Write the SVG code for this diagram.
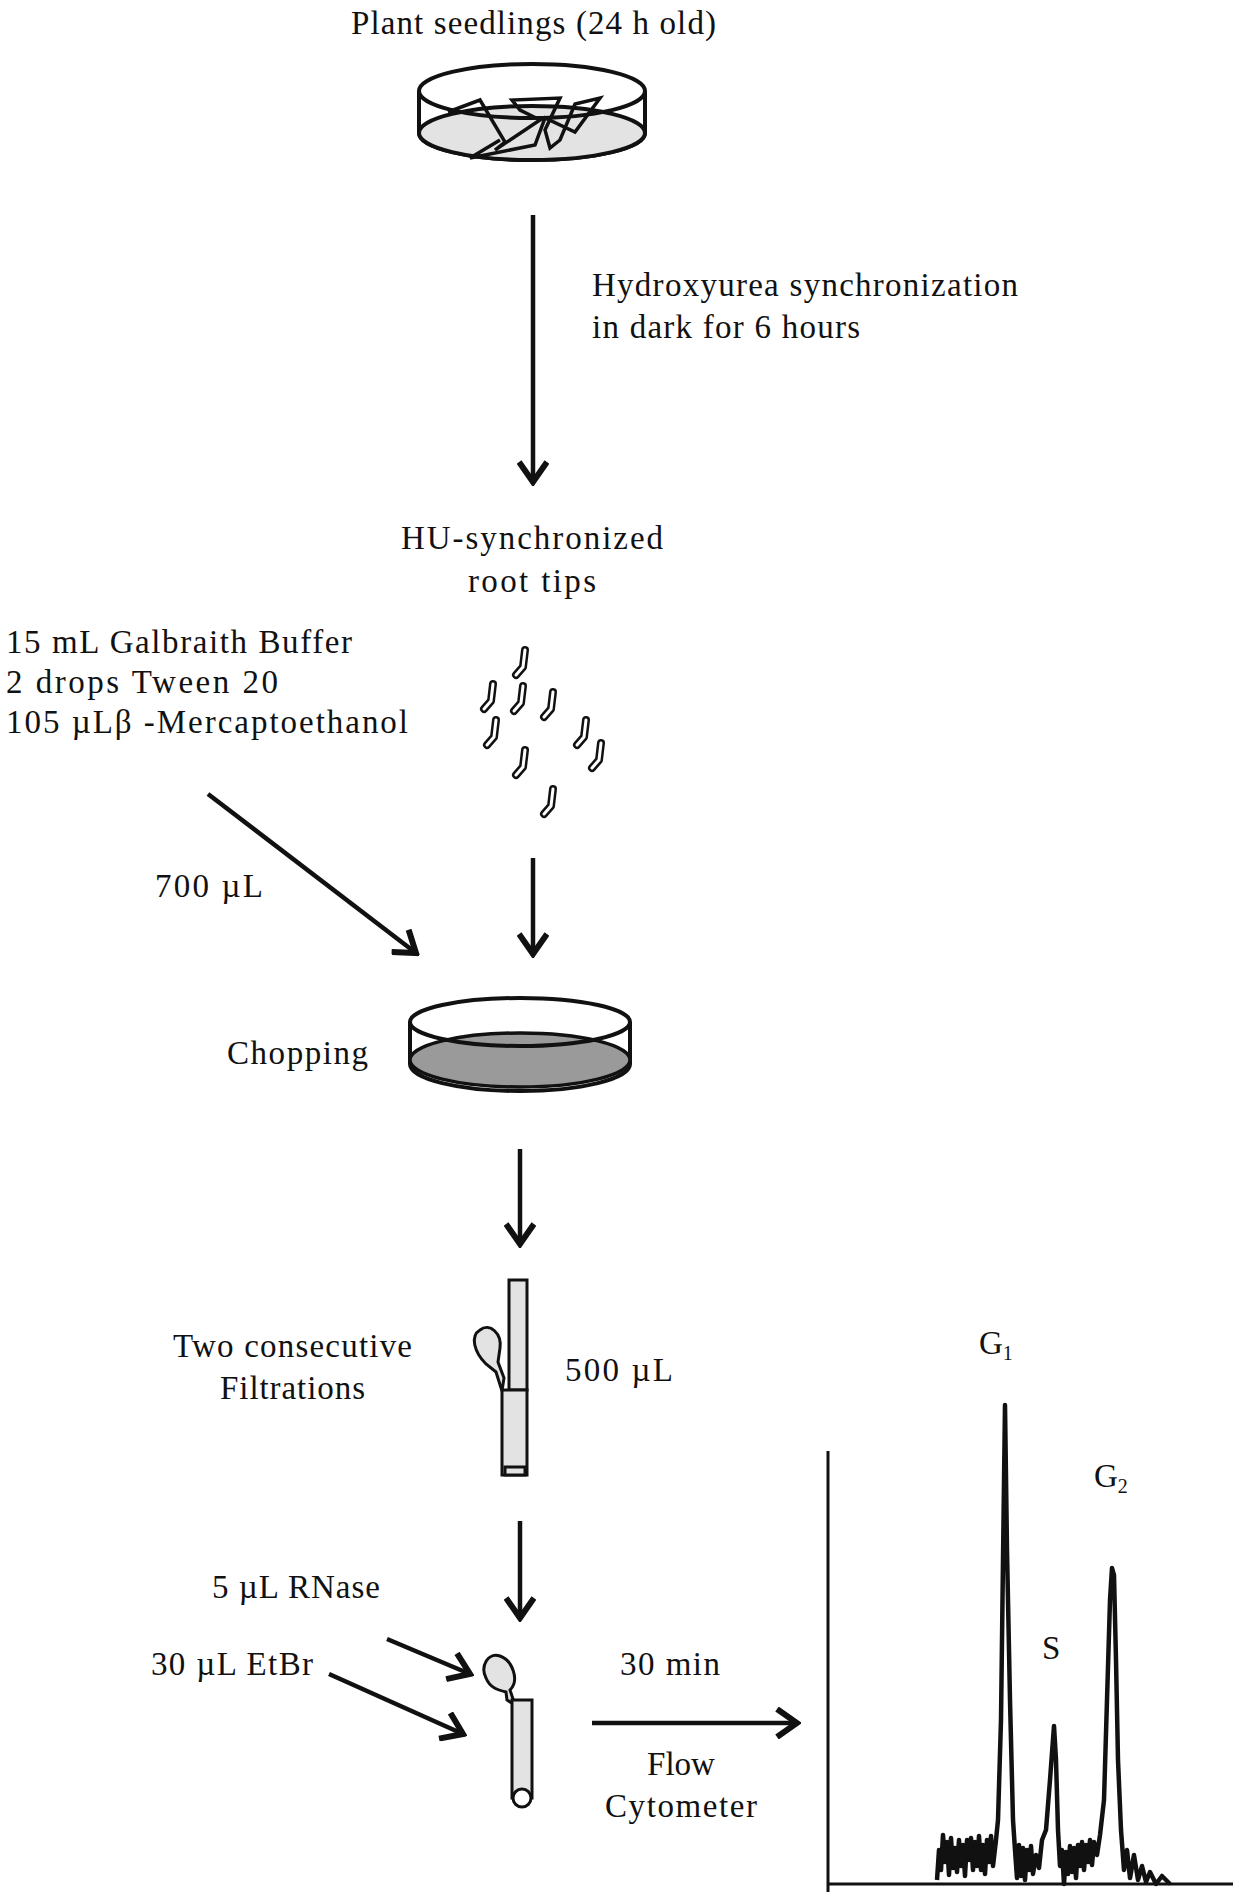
<svg xmlns="http://www.w3.org/2000/svg" width="1238" height="1896" viewBox="0 0 1238 1896">
<style>
text{font-family:"Liberation Serif","Times New Roman",serif;font-size:33px;fill:#111}
.c{stroke:#111;stroke-width:3.5;fill:none}
.o{stroke:#111;stroke-width:4.5;fill:none;marker-end:url(#ah)}
.t{stroke:#111;stroke-width:3;fill:#e3e3e3}
</style>
<defs>
<marker id="ah" markerUnits="userSpaceOnUse" viewBox="-24 -16 28 32" markerWidth="28" markerHeight="32" refX="0" refY="0" orient="auto">
<path d="M-20,-14 L0,0 L-20,14" fill="none" stroke="#111" stroke-width="6" stroke-linejoin="miter"/>
</marker>
<g id="tip"><path d="M3,-15 L1,2 L-6,10" stroke="#111" stroke-width="8" stroke-linecap="round" stroke-linejoin="round" fill="none"/><path d="M3,-15 L1,2 L-6,10" stroke="#fff" stroke-width="3" stroke-linecap="round" stroke-linejoin="round" fill="none"/></g>
</defs>
<rect width="1238" height="1896" fill="#fff"/>

<g id="seedlings">
<text x="351" y="34" textLength="365">Plant seedlings (24 h old)</text>
<path d="M419,91 L419,133 A113,27 0 0 0 645,133 L645,91" fill="#fff" stroke="#111" stroke-width="4"/>
<ellipse cx="532" cy="133" rx="113" ry="27" fill="#e3e3e3" stroke="#111" stroke-width="4"/>
<ellipse cx="532" cy="91" rx="113" ry="27" fill="none" stroke="#111" stroke-width="4"/>
<path class="c" d="M448,112 L480,100 L505,142 L495,150 L540,120 L520,110 L512,100 L560,98 L545,130 L550,148 L560,140 L575,104 L600,98 L575,132 L545,118 L535,145 L470,158 L500,140"/>
</g>

<g id="hu">
<text x="401" y="549" textLength="262">HU-synchronized</text>
<text x="468" y="592" textLength="128">root tips</text>
<use href="#tip" x="522" y="665"/><use href="#tip" x="490" y="699"/><use href="#tip" x="520" y="701"/>
<use href="#tip" x="550" y="707"/><use href="#tip" x="493" y="735"/><use href="#tip" x="583" y="735"/>
<use href="#tip" x="598" y="758"/><use href="#tip" x="522" y="765"/><use href="#tip" x="550" y="804"/>
</g>

<g id="buffer">
<text x="6" y="653" textLength="346">15 mL Galbraith Buffer</text>
<text x="6" y="693" textLength="272">2 drops Tween 20</text>
<text x="6" y="733" textLength="402">105 µLβ -Mercaptoethanol</text>
</g>

<g id="chopping">
<text x="227" y="1064" textLength="141">Chopping</text>
<path d="M410,1022 L410,1064 A110,27 0 0 0 630,1064 L630,1022" fill="#fff" stroke="#111" stroke-width="4"/>
<ellipse cx="520" cy="1060" rx="110" ry="27" fill="#9a9a9a" stroke="#111" stroke-width="3.5"/>
<ellipse cx="520" cy="1022" rx="110" ry="24" fill="none" stroke="#111" stroke-width="4"/>
</g>

<g id="filtration">
<text x="173" y="1357" textLength="239">Two consecutive</text>
<text x="220" y="1399" textLength="145">Filtrations</text>
<text x="565" y="1381" textLength="108">500 µL</text>
<rect class="t" x="509" y="1280" width="18" height="110" fill="#d6d6d6"/>
<rect class="t" x="502" y="1390" width="25" height="85"/>
<rect class="t" x="505" y="1467" width="20" height="8" fill="#fff"/>
<path class="t" d="M502,1391 L496,1372 L486,1364 C474,1352 470,1336 480,1330 C490,1322 502,1334 500,1348 L498,1362 L504,1378 Z"/>
</g>

<g id="stain">
<text x="212" y="1598" textLength="168">5 µL RNase</text>
<text x="151" y="1675" textLength="162">30 µL EtBr</text>
<path class="t" d="M507,1700 L515,1705 L510,1690 C520,1680 512,1660 500,1656 C488,1652 480,1666 486,1678 C490,1688 498,1690 506,1692 Z"/>
<rect class="t" x="512" y="1700" width="20" height="98"/>
<ellipse cx="522" cy="1798" rx="9" ry="9" fill="#fff" stroke="#111" stroke-width="3"/>
</g>

<g id="flow">
<text x="620" y="1675" textLength="100">30 min</text>
<text x="681" y="1775" text-anchor="middle">Flow</text>
<text x="605" y="1817" textLength="152">Cytometer</text>
</g>

<g id="histogram">
<line x1="828" y1="1451" x2="828" y2="1892" stroke="#111" stroke-width="3"/>
<line x1="828" y1="1884" x2="1233" y2="1884" stroke="#111" stroke-width="3"/>
<path fill="none" stroke="#111" stroke-width="4.5" stroke-linejoin="round" d="M937,1880 L939,1850 L941,1870 L943,1835 L945,1862 L947,1842 L949,1875 L951,1838 L953,1868 L955,1848 L957,1872 L959,1840 L961,1866 L963,1845 L965,1876 L967,1840 L969,1860 L971,1838 L973,1870 L975,1842 L977,1866 L979,1836 L981,1870 L983,1845 L985,1874 L987,1840 L989,1862 L991,1836 L993,1866 L996,1840 L998,1820 L1001,1720 L1003,1560 L1005,1405 L1007,1550 L1010,1700 L1013,1820 L1015,1850 L1017,1878 L1019,1845 L1021,1876 L1023,1848 L1025,1880 L1027,1850 L1029,1870 L1031,1846 L1033,1874 L1036,1855 L1039,1868 L1042,1840 L1046,1830 L1050,1780 L1054,1726 L1056,1760 L1058,1830 L1060,1866 L1062,1850 L1064,1884 L1066,1852 L1068,1874 L1070,1846 L1072,1872 L1074,1848 L1076,1878 L1078,1845 L1080,1866 L1082,1842 L1084,1870 L1086,1845 L1088,1862 L1090,1840 L1092,1865 L1094,1842 L1097,1855 L1100,1835 L1104,1800 L1107,1700 L1110,1600 L1112,1568 L1114,1575 L1116,1660 L1118,1760 L1121,1830 L1124,1870 L1127,1850 L1130,1878 L1134,1855 L1138,1880 L1142,1866 L1146,1882 L1150,1872 L1156,1884 L1162,1876 L1170,1884"/>
<text x="979" y="1354">G<tspan font-size="20" dy="6">1</tspan></text>
<text x="1094" y="1487">G<tspan font-size="20" dy="6">2</tspan></text>
<text x="1042" y="1659">S</text>
</g>

<g id="connectors">
<text x="592" y="296" textLength="426">Hydroxyurea synchronization</text>
<text x="592" y="338" textLength="268">in dark for 6 hours</text>
<text x="155" y="897" textLength="108">700 µL</text>
<line class="o" x1="533" y1="215" x2="533" y2="482"/>
<line class="o" x1="208" y1="794" x2="416" y2="953"/>
<line class="o" x1="533" y1="858" x2="533" y2="954"/>
<line class="o" x1="520" y1="1149" x2="520" y2="1244"/>
<line class="o" x1="520" y1="1521" x2="520" y2="1618"/>
<line class="o" x1="387" y1="1639" x2="470" y2="1674"/>
<line class="o" x1="329" y1="1674" x2="463" y2="1734"/>
<line class="o" x1="592" y1="1723" x2="797" y2="1723"/>
</g>
</svg>
